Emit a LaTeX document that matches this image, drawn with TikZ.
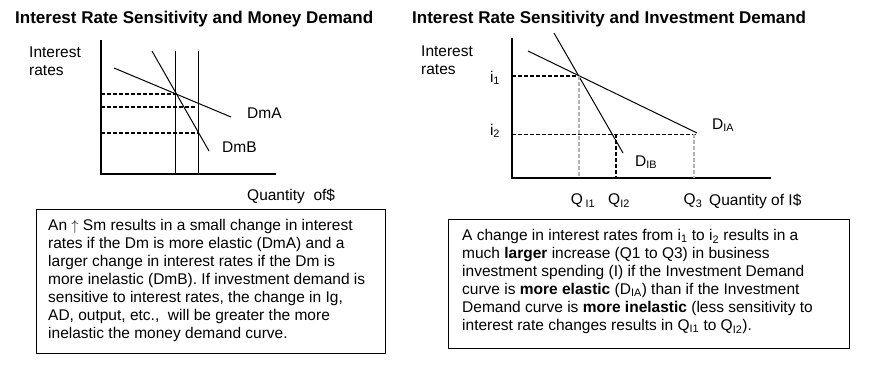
\documentclass[tikz,border=0pt]{standalone}
\usepackage{fontspec}
\setmainfont{Liberation Sans}
\usetikzlibrary{calc}

\begin{document}
\begin{tikzpicture}[x=1pt,y=-1pt,
  every node/.style={font=\fontsize{15.5}{18}\selectfont,inner sep=0pt},
  ttl/.style={font=\fontsize{17}{20}\selectfont\bfseries,anchor=west},
  lbl/.style={anchor=west,align=left},
  ax/.style={line width=1.8pt},
  crv/.style={line width=1pt},
  dsh/.style={line width=1.3pt,dash pattern=on 4pt off 2pt},
  thdsh/.style={line width=0.8pt,dash pattern=on 4pt off 2pt},
  gdsh/.style={line width=1.1pt,gray!60,dash pattern=on 4pt off 2pt},
  txtbox/.style={draw,line width=1pt,anchor=north west}]

\useasboundingbox (0,0) rectangle (876,367);

% titles
\node[ttl] (t1) at (15,19) {Interest Rate Sensitivity and Money Demand};
\node[ttl] (t2) at (412,19) {Interest Rate Sensitivity and Investment Demand};

% money demand graph
\coordinate (o1) at (101,174);
\coordinate (y1) at (101,40);
\coordinate (x1) at (276,174);
\coordinate (va) at (175,51);
\coordinate (vab) at (175,174);
\coordinate (vb) at (198,51);
\coordinate (vbb) at (198,174);
\coordinate (dma1) at (114,68);
\coordinate (dma2) at (231,117);
\coordinate (dmb1) at (152,51);
\coordinate (dmb2) at (209,151);

\draw[ax] (y1) -- (o1) -- (x1);
\draw[crv] (va) -- (vab);
\draw[crv] (vb) -- (vbb);
\draw[crv] (dma1) -- (dma2);
\draw[crv] (dmb1) -- (dmb2);
\draw[dsh] (101,94) -- (175,94);
\draw[dsh] (101,107) -- (196,107);
\draw[dsh] (101,133) -- (198,133);

\node[lbl] (r1) at (29,61) {Interest\\rates};
\node[lbl] (dma) at (247,113) {DmA};
\node[lbl] (dmb) at (222,147) {DmB};
\node[lbl] (q1) at (247,196) {Quantity\ \ of\$};

% investment demand graph
\coordinate (o2) at (512,178);
\coordinate (y2) at (512,38);
\coordinate (x2) at (771,178);
\coordinate (dia1) at (528,51);
\coordinate (dia2) at (697,133);
\coordinate (dib1) at (554,33);
\coordinate (dib2) at (623,153);
\coordinate (e1) at (579,76);
\coordinate (e2) at (616,134);
\coordinate (e3) at (694,134);

\draw[ax] (y2) -- (o2) -- (x2);
\draw[crv] (dia1) -- (dia2);
\draw[crv] (dib1) -- (dib2);
\draw[dsh] (512,76) -- (e1);
\draw[thdsh] (512,134) -- (697,134);
\draw[gdsh] (e1) -- (579,178);
\draw[gdsh] (e3) -- (694,178);
\draw[dsh] (e2) -- (616,178);

\node[lbl] (r2) at (421,60) {Interest\\rates};
\node (i1) at (495,78) {i\textsubscript{1}};
\node (i2) at (495,131) {i\textsubscript{2}};
\node[lbl] (dia) at (712,125) {D\textsubscript{IA}};
\node[lbl] (dib) at (635,162) {D\textsubscript{IB}};
\node (qi1) at (583,201) {Q\,\textsubscript{I1}};
\node (qi2) at (619,201) {Q\textsubscript{I2}};
\node (q3) at (693,201) {Q\textsubscript{3}};
\node[lbl] (q2) at (709,201) {Quantity of I\$};

% text boxes
\node[txtbox,minimum width=349pt,minimum height=144pt] (b1) at (36,209) {};
\node[anchor=north west,align=left] (tx1) at (48,219) {An $\uparrow$ Sm results in a small change in interest\\
rates if the Dm is more elastic (DmA) and a\\
larger change in interest rates if the Dm is\\
more inelastic (DmB). If investment demand is\\
sensitive to interest rates, the change in Ig,\\
AD, output, etc.,\ \ will be greater the more\\
inelastic the money demand curve.};

\node[txtbox,minimum width=401pt,minimum height=129pt] (b2) at (448,219) {};
\node[anchor=north west,align=left] (tx2) at (462,229) {A change in interest rates from i\textsubscript{1} to i\textsubscript{2} results in a\\
much \textbf{larger} increase (Q1 to Q3) in business\\
investment spending (I) if the Investment Demand\\
curve is \textbf{more elastic} (D\textsubscript{IA}) than if the Investment\\
Demand curve is \textbf{more inelastic} (less sensitivity to\\
interest rate changes results in Q\textsubscript{I1} to Q\textsubscript{I2}).};

\end{tikzpicture}
\end{document}
